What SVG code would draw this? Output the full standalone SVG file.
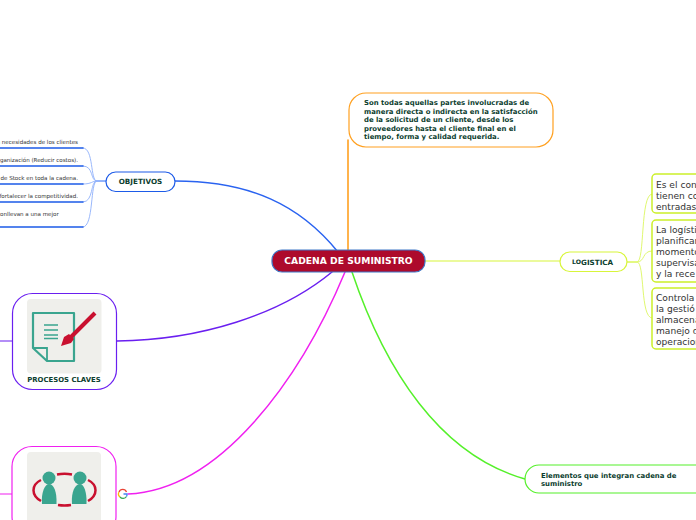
<svg xmlns="http://www.w3.org/2000/svg" width="696" height="520" viewBox="0 0 696 520">
<style>
text{font-family:"DejaVu Sans",Verdana,sans-serif;fill:#0b3d2e}
.b{font-weight:bold;font-size:6.900px}
.t{font-size:5.550px;fill:#333}
.l{font-size:9.100px;fill:#333}
.c{fill:none;stroke-linecap:round}
.n{fill:#fff}
</style>
<rect width="696" height="520" fill="#fff"/>
<g id="connectors">
<path class="c" d="M338 252C300 205 250 181 175 181" stroke="#2a63f0" stroke-width="1.500"/>
<path class="c" d="M348 250V140" stroke="#ffa020" stroke-width="1.600"/>
<path class="c" d="M425 261H560" stroke="#d8f53a" stroke-width="1.200"/>
<path class="c" d="M352 272C385 370 440 455 525 479" stroke="#55f02a" stroke-width="1.500"/>
<path class="c" d="M332 272C280 315 200 340 117 341" stroke="#6a1ff0" stroke-width="1.500"/>
<path class="c" d="M345 272C300 380 220 490 128 494" stroke="#f020f0" stroke-width="1.500"/>
<path class="c" d="M0 341H12" stroke="#6a1ff0" stroke-width="1.200"/>
<path class="c" d="M0 494H12" stroke="#f020f0" stroke-width="1.200"/>
<g stroke="#8fb0fa" stroke-width="0.900" class="c">
<path d="M106 181H97C90 181 94 148 83 148"/>
<path d="M106 181H97C90 181 94 166 83 166"/>
<path d="M106 181H97C92 181 92 184 83 184"/>
<path d="M106 181H97C90 181 94 202 83 202"/>
<path d="M106 181H97C90 181 94 227 83 227"/>
</g>
<g stroke="#1d5be8" stroke-width="1.500" class="c">
<path d="M0 148H83"/><path d="M0 166H83"/><path d="M0 184H83"/><path d="M0 202H83"/><path d="M0 227H83"/>
</g>
<g stroke="#e0f870" stroke-width="1" class="c">
<path d="M627 262H637C645 262 640 194 652 194"/>
<path d="M627 262H637C645 262 642 251 652 251"/>
<path d="M627 262H637C645 262 640 318 652 318"/>
</g>
</g>
<g id="n-root">
<rect x="272" y="250" width="153" height="22" rx="10" fill="#ad0a2c" stroke="#3f78c8" stroke-width="1.200"/>
<text x="348.500" y="264" text-anchor="middle" style="font-size:9.200px;font-weight:bold;fill:#fff">CADENA DE SUMINISTRO</text>
</g>
<g id="n-def">
<rect class="n" x="349" y="93" width="204" height="54" rx="17" stroke="#ffa020" stroke-width="1.200"/>
<text class="b"><tspan x="364" y="104.500">Son todas aquellas partes involucradas de</tspan><tspan x="364" y="113.500">manera directa o indirecta en la satisfacción</tspan><tspan x="364" y="121.500">de la solicitud de un cliente, desde los</tspan><tspan x="364" y="130.500">proveedores hasta el cliente final en el</tspan><tspan x="364" y="138.500">tiempo, forma y calidad requerida.</tspan></text>
</g>
<g id="n-objetivos">
<rect class="n" x="106" y="172" width="69" height="19.500" rx="9.700" stroke="#1d5be8" stroke-width="1.200"/>
<text x="140.500" y="184" text-anchor="middle" class="b" style="font-size:7.200px">OBJETIVOS</text>
</g>
<g id="n-objetivos-items">
<text class="t" x="78" y="144" text-anchor="end">a necesidades de los clientes</text>
<text class="t" x="78" y="162" text-anchor="end">ganización (Reducir costos).</text>
<text class="t" x="78" y="180" text-anchor="end">de Stock en toda la cadena.</text>
<text class="t" x="78" y="198" text-anchor="end">fortalecer la competitividad.</text>
<text class="t" x="0" y="216">onllevan a una mejor</text>
</g>
<g id="n-logistica">
<rect class="n" x="560" y="252" width="67" height="19.500" rx="9.700" stroke="#d8f53a" stroke-width="1.200"/>
<text x="572" y="265" class="b" style="font-size:7.200px"><tspan y="263.500" style="font-size:6.200px">LO</tspan><tspan y="264.500">GISTICA</tspan></text>
</g>
<g id="n-log1">
<rect class="n" x="652" y="174" width="60" height="39" rx="4" stroke="#ccf02a" stroke-width="1.500"/>
<text class="l"><tspan x="656" y="188">Es el con</tspan><tspan x="656" y="199">tienen co</tspan><tspan x="656" y="210">entradas</tspan></text>
</g>
<g id="n-log2">
<rect class="n" x="652" y="220" width="60" height="62" rx="4" stroke="#ccf02a" stroke-width="1.500"/>
<text class="l"><tspan x="656" y="233">La logísti</tspan><tspan x="656" y="244">planificar</tspan><tspan x="656" y="255">momento</tspan><tspan x="656" y="266">supervisa</tspan><tspan x="656" y="277">y la rece</tspan></text>
</g>
<g id="n-log3">
<rect class="n" x="652" y="288" width="60" height="61" rx="4" stroke="#ccf02a" stroke-width="1.500"/>
<text class="l"><tspan x="656" y="301">Controla</tspan><tspan x="656" y="312">la gestió</tspan><tspan x="656" y="323">almacena</tspan><tspan x="656" y="334">manejo d</tspan><tspan x="656" y="345">operacion</tspan></text>
</g>
<g id="n-elementos">
<rect class="n" x="525" y="465" width="190" height="28" rx="14" stroke="#55f02a" stroke-width="1.200"/>
<text class="b"><tspan x="541" y="478">Elementos que integran cadena de</tspan><tspan x="541" y="486">suministro</tspan></text>
</g>
<g id="n-procesos">
<rect class="n" x="12.500" y="293.500" width="104" height="96" rx="20" stroke="#6a1ff0" stroke-width="1.200"/>
<rect x="27" y="299" width="74.500" height="74.500" rx="4" fill="#efefeb"/>
<path d="M33 313H74V361H47L33 348Z" fill="none" stroke="#3aa58f" stroke-width="2.200" stroke-linejoin="round"/>
<path d="M33 348H47V361" fill="none" stroke="#3aa58f" stroke-width="1.800"/>
<path d="M44 325H58M44 330H58M44 335H58M44 338.500H58" stroke="#3aa58f" stroke-width="1.300"/>
<path d="M95 313L71 337" stroke="#c9102f" stroke-width="4"/>
<path d="M61 346L64 337L69 334L74 339L71 343Z" fill="#c9102f"/>
<text x="64" y="382" text-anchor="middle" class="b">PROCESOS CLAVES</text>
</g>
<g id="n-google">
<rect class="n" x="12" y="446.500" width="104" height="90" rx="20" stroke="#f020f0" stroke-width="1.200"/>
<rect x="27" y="452" width="74" height="74" rx="4" fill="#efefeb"/>
<path d="M41 480C31 485 31 495 41 501M57 474.500Q64.500 473 72 474.500M58 505Q64.500 506 71 505M88 480C98 485 98 495 88 501" fill="none" stroke="#c9102f" stroke-width="2.500"/>
<circle cx="49" cy="478" r="6.500" fill="#3aa58f"/><circle cx="80" cy="478" r="6.500" fill="#3aa58f"/>
<path d="M42 504C41 492 45 484 49 484C54 484 57 492 56.500 504Z" fill="#3aa58f"/>
<path d="M72 504C71 492 75 484 80 484C84 484 87 492 86.500 504Z" fill="#3aa58f"/>
<path d="M119 492A4 4 0 0 1 126.500 492" fill="none" stroke="#e94235" stroke-width="1.300"/>
<path d="M119 492A4 4 0 0 0 120 497" fill="none" stroke="#fbbc05" stroke-width="1.300"/>
<path d="M120 497A4 4 0 0 0 126.500 496.500" fill="none" stroke="#34a853" stroke-width="1.300"/>
<path d="M123.500 494H127A4 4 0 0 1 126.500 496.500" fill="none" stroke="#4285f4" stroke-width="1.300"/>
</g>
</svg>
